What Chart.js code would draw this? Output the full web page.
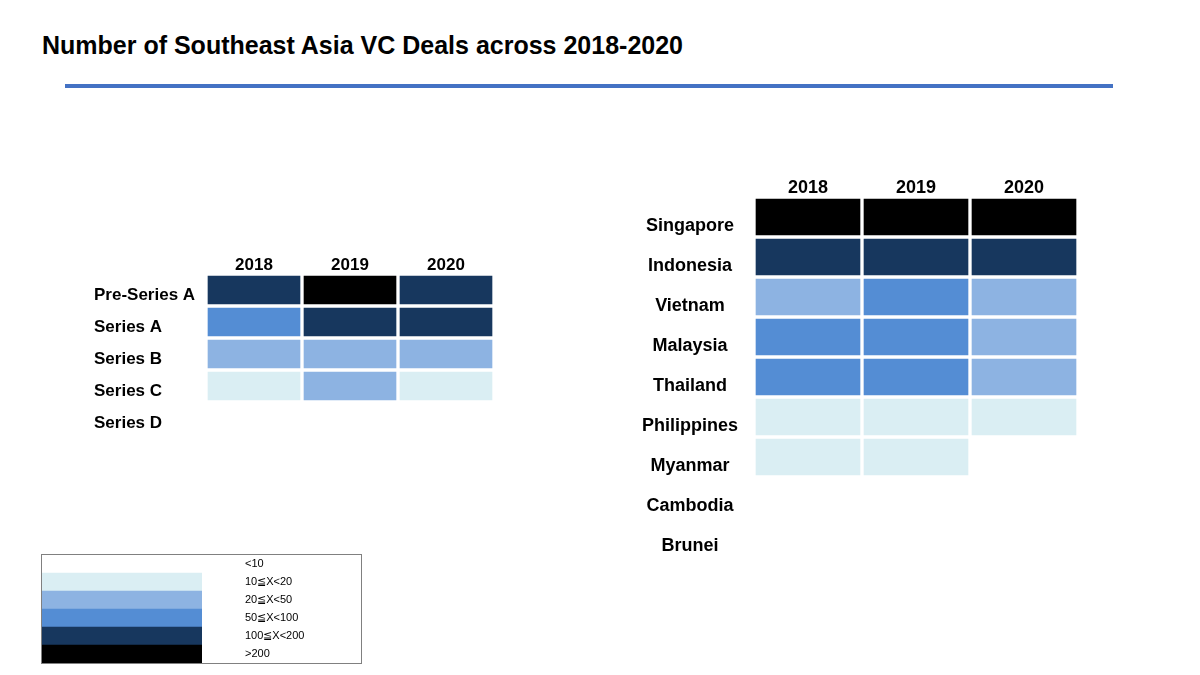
<!DOCTYPE html>
<html>
<head>
<meta charset="utf-8">
<script src="https://cdn.jsdelivr.net/npm/chart.js@4"></script>
<style>
  html, body { margin: 0; padding: 0; background: #fff; }
  body { width: 1200px; height: 675px; position: relative; overflow: hidden; font-family: "Liberation Sans", Arial, sans-serif; }
  #title { position: absolute; left: 42px; top: 33px; font-size: 25px; line-height: 25px; font-weight: bold; color: #000; white-space: nowrap; }
  #rule { position: absolute; left: 65px; top: 84px; width: 1048px; height: 4px; background: #4472C4; }
  canvas { position: absolute; }
  #legendBox { position: absolute; left: 41px; top: 554px; width: 319px; height: 108px; border: 1px solid #808080; }
</style>
</head>
<body>
<div id="title">Number of Southeast Asia VC Deals across 2018-2020</div>
<div id="rule"></div>
<canvas id="stageChart" width="400" height="194" style="left:94px; top:240px;"></canvas>
<canvas id="countryChart" width="448" height="394" style="left:630px; top:163px;"></canvas>
<div id="legendBox"></div>
<canvas id="legendChart" width="318" height="108" style="left:42px; top:555px;"></canvas>
<script>
// ---- Data (bin level: 0 = <10, 1 = 10-20, 2 = 20-50, 3 = 50-100, 4 = 100-200, 5 = >200) ----
const years = ["2018", "2019", "2020"];

const stageLabels = ["Pre-Series A", "Series A", "Series B", "Series C", "Series D"];
const stage2018 = [4, 3, 2, 1, 0];
const stage2019 = [5, 4, 2, 2, 0];
const stage2020 = [4, 4, 2, 1, 0];

const countryLabels = ["Singapore", "Indonesia", "Vietnam", "Malaysia", "Thailand", "Philippines", "Myanmar", "Cambodia", "Brunei"];
const country2018 = [5, 4, 2, 3, 3, 1, 1, 0, 0];
const country2019 = [5, 4, 3, 3, 3, 1, 1, 0, 0];
const country2020 = [5, 4, 2, 2, 2, 1, 0, 0, 0];

const binLabels = ["<10", "10\u2266X<20", "20\u2266X<50", "50\u2266X<100", "100\u2266X<200", ">200"];
const binColors = ["#FFFFFF", "#DAEEF3", "#8DB3E2", "#548DD4", "#17375E", "#000000"];

// ---- Helpers ----
const FONT = "'Liberation Sans', Arial, sans-serif";

function cellColor(level) {
  return level === 0 ? "rgba(255,255,255,0)" : binColors[level];
}

function noPad(scale) {
  scale.paddingTop = 0; scale.paddingBottom = 0;
  scale.paddingLeft = 0; scale.paddingRight = 0;
}

function heatDatasets(rowLabels, yearSeries) {
  return yearSeries.map((levels, col) => ({
    label: years[col],
    data: rowLabels.map(() => [col, col + 1]),
    backgroundColor: levels.map(cellColor),
    borderColor: "#FFFFFF",
    borderWidth: 2,
    borderSkipped: false,
    barPercentage: 1,
    categoryPercentage: 1,
    grouped: false
  }));
}

function heatmap(canvasId, rowLabels, yearSeries, opts) {
  return new Chart(document.getElementById(canvasId), {
    type: "bar",
    data: { labels: rowLabels, datasets: heatDatasets(rowLabels, yearSeries) },
    options: {
      indexAxis: "y",
      responsive: false,
      animation: false,
      layout: { padding: 0 },
      plugins: { legend: { display: false }, tooltip: { enabled: false }, title: { display: false } },
      scales: {
        x: {
          type: "linear",
          position: "top",
          min: 0,
          max: years.length,
          grid: { display: false, drawTicks: false },
          border: { display: false },
          afterBuildTicks: (scale) => { scale.ticks = years.map((_, i) => ({ value: i + 0.5 })); },
          afterFit: (scale) => { scale.height = opts.topHeight; noPad(scale); },
          ticks: {
            autoSkip: false,
            maxRotation: 0,
            padding: -2,
            color: "#000",
            font: { family: FONT, size: opts.fontSize, weight: "bold" },
            callback: (v) => years[Math.floor(v)]
          }
        },
        y: {
          type: "category",
          position: "left",
          grid: { display: false, drawTicks: false },
          border: { display: false },
          afterFit: (scale) => { scale.width = opts.axisWidth; noPad(scale); },
          ticks: {
            crossAlign: opts.crossAlign,
            padding: opts.labelPadding,
            labelOffset: opts.labelOffset,
            color: "#000",
            font: { family: FONT, size: opts.fontSize, weight: "bold" }
          }
        }
      }
    }
  });
}

heatmap("stageChart", stageLabels, [stage2018, stage2019, stage2020],
  { topHeight: 34, axisWidth: 112, crossAlign: "far", labelPadding: 0, labelOffset: 5, fontSize: 17 });

heatmap("countryChart", countryLabels, [country2018, country2019, country2020],
  { topHeight: 34, axisWidth: 124, crossAlign: "center", labelPadding: 16, labelOffset: 9, fontSize: 18 });

// ---- Legend (bins) ----
new Chart(document.getElementById("legendChart"), {
  type: "bar",
  data: {
    labels: binLabels,
    datasets: [{
      data: binLabels.map(() => 1),
      backgroundColor: binColors,
      borderWidth: 0,
      barPercentage: 1,
      categoryPercentage: 1
    }]
  },
  options: {
    indexAxis: "y",
    responsive: false,
    animation: false,
    layout: { padding: 0 },
    plugins: { legend: { display: false }, tooltip: { enabled: false } },
    scales: {
      x: { display: false, min: 0, max: 1 },
      y: {
        position: "right",
        grid: { display: false, drawTicks: false },
        border: { display: false },
        afterFit: (scale) => { scale.width = 158; noPad(scale); },
        ticks: {
          padding: 43,
          color: "#000",
          font: { family: FONT, size: 11 }
        }
      }
    }
  }
});
</script>
</body>
</html>
